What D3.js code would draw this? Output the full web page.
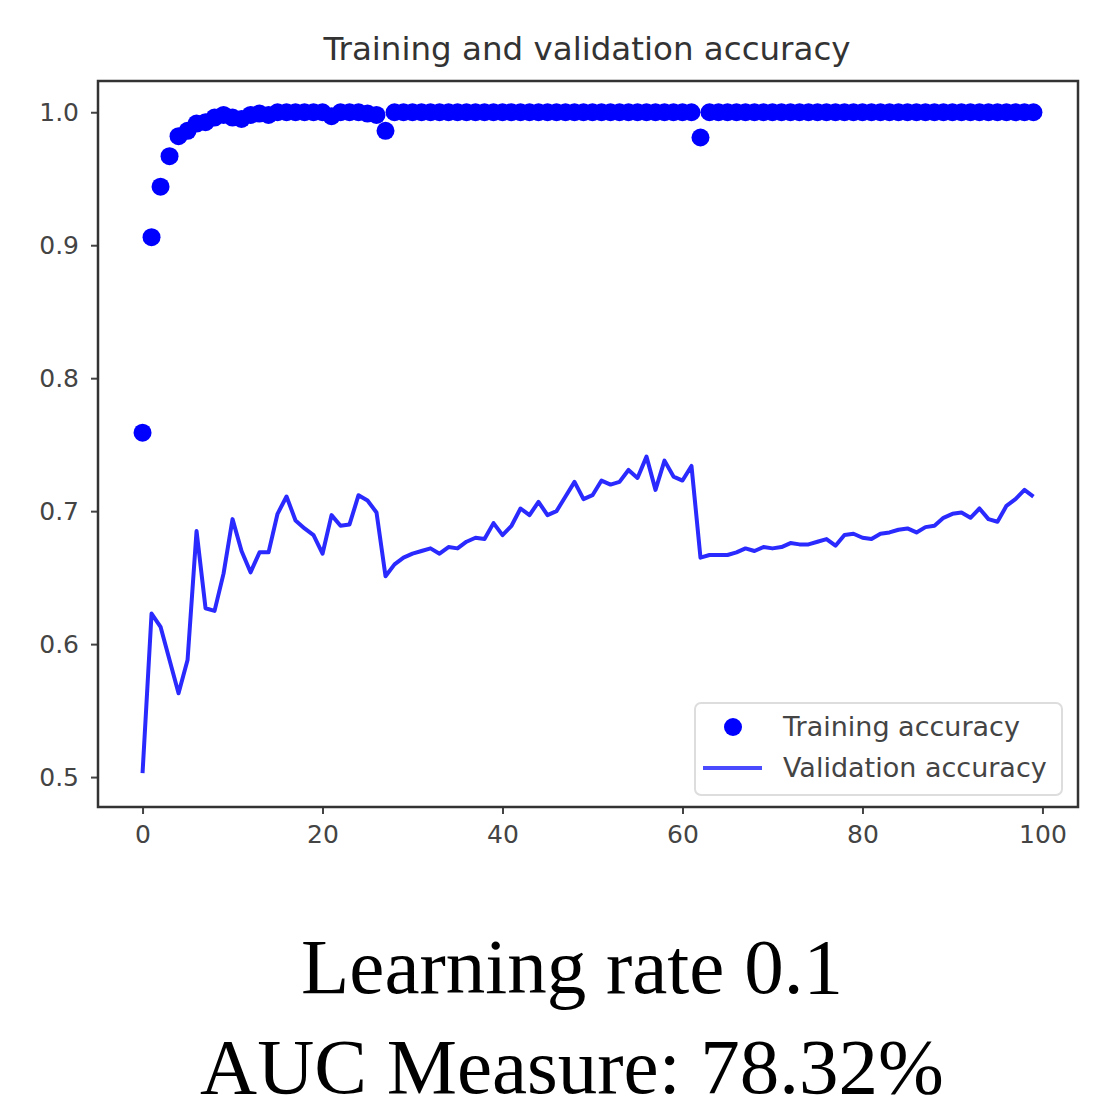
<!DOCTYPE html>
<html>
<head>
<meta charset="utf-8">
<script src="https://cdn.jsdelivr.net/npm/d3@7"></script>
<style>
  body { margin: 0; background: #fff; }
  svg { display: block; }
  .tick text { font-family: "DejaVu Sans", sans-serif; fill: #444; }
</style>
</head>
<body>
<div id="chart"></div>
<script>
// training accuracy per epoch (dots)
const trainAcc = [
  0.759, 0.906, 0.944, 0.967, 0.982, 0.986, 0.9915, 0.9925, 0.996, 0.998,
  0.996, 0.995, 0.998, 0.999, 0.998, 1.0, 1.0, 1.0, 1.0, 1.0,
  1.0, 0.997, 1.0, 1.0, 1.0, 0.999, 0.998, 0.986, 1.0, 1.0,
  1.0, 1.0, 1.0, 1.0, 1.0, 1.0, 1.0, 1.0, 1.0, 1.0,
  1.0, 1.0, 1.0, 1.0, 1.0, 1.0, 1.0, 1.0, 1.0, 1.0,
  1.0, 1.0, 1.0, 1.0, 1.0, 1.0, 1.0, 1.0, 1.0, 1.0,
  1.0, 1.0, 0.981, 1.0, 1.0, 1.0, 1.0, 1.0, 1.0, 1.0,
  1.0, 1.0, 1.0, 1.0, 1.0, 1.0, 1.0, 1.0, 1.0, 1.0,
  1.0, 1.0, 1.0, 1.0, 1.0, 1.0, 1.0, 1.0, 1.0, 1.0,
  1.0, 1.0, 1.0, 1.0, 1.0, 1.0, 1.0, 1.0, 1.0, 1.0
];

// validation accuracy per epoch (line)
const valAcc = [
  0.503, 0.623, 0.613, 0.588, 0.563, 0.588, 0.685, 0.627, 0.625, 0.653,
  0.694, 0.670, 0.654, 0.669, 0.669, 0.698, 0.711, 0.693, 0.687, 0.682,
  0.668, 0.697, 0.689, 0.690, 0.712, 0.708, 0.699, 0.651, 0.660, 0.665,
  0.668, 0.670, 0.672, 0.668, 0.673, 0.672, 0.677, 0.680, 0.679, 0.691,
  0.682, 0.689, 0.702, 0.697, 0.707, 0.697, 0.700, 0.711, 0.722, 0.709,
  0.712, 0.723, 0.720, 0.722, 0.731, 0.725, 0.741, 0.716, 0.738, 0.726,
  0.723, 0.734, 0.665, 0.667, 0.667, 0.667, 0.669, 0.672, 0.670, 0.673,
  0.672, 0.673, 0.676, 0.675, 0.675, 0.677, 0.679, 0.674, 0.682, 0.683,
  0.680, 0.679, 0.683, 0.684, 0.686, 0.687, 0.684, 0.688, 0.689, 0.695,
  0.698, 0.699, 0.695, 0.702, 0.694, 0.692, 0.704, 0.709, 0.716, 0.711
];

const xTicks = [0, 20, 40, 60, 80, 100];
const yTicks = [0.5, 0.6, 0.7, 0.8, 0.9, 1.0];

const title = "Training and validation accuracy";
const legendLabels = ["Training accuracy", "Validation accuracy"];
const captionLines = ["Learning rate 0.1", "AUC Measure: 78.32%"];

const width = 1104, height = 1116;
const plot = { left: 98, right: 1078, top: 81, bottom: 807 };

const svg = d3.select("#chart").append("svg")
    .attr("width", width)
    .attr("height", height);

svg.append("rect").attr("width", width).attr("height", height).attr("fill", "#fff");

// matplotlib style 5% margins
const n = trainAcc.length;
const x = d3.scaleLinear()
    .domain([-0.05 * (n - 1), (n - 1) * 1.05])
    .range([plot.left, plot.right]);
const y = d3.scaleLinear()
    .domain([0.4775, 1.0235])
    .range([plot.bottom, plot.top]);

// validation line
const line = d3.line()
    .x((d, i) => x(i))
    .y(d => y(d));

svg.append("path")
    .datum(valAcc)
    .attr("fill", "none")
    .attr("stroke", "#2a2aff")
    .attr("stroke-width", 4)
    .attr("stroke-linejoin", "round")
    .attr("d", line);

// training dots
svg.append("g")
    .attr("fill", "#0000ff")
    .selectAll("circle")
    .data(trainAcc)
    .join("circle")
    .attr("cx", (d, i) => x(i))
    .attr("cy", d => y(d))
    .attr("r", 9);

// axes
const xAxis = svg.append("g")
    .attr("transform", `translate(0,${plot.bottom})`)
    .call(d3.axisBottom(x).tickValues(xTicks).tickSize(7).tickPadding(8).tickFormat(d3.format("d")));
const yAxis = svg.append("g")
    .attr("transform", `translate(${plot.left},0)`)
    .call(d3.axisLeft(y).tickValues(yTicks).tickSize(7).tickPadding(12).tickFormat(d3.format(".1f")));

[xAxis, yAxis].forEach(g => {
    g.select(".domain").remove();
    g.selectAll(".tick line").attr("stroke", "#444").attr("stroke-width", 2);
    g.selectAll(".tick text").attr("font-size", 25);
});
xAxis.selectAll(".tick text").attr("dy", "0.85em");

// frame
svg.append("rect")
    .attr("x", plot.left)
    .attr("y", plot.top)
    .attr("width", plot.right - plot.left)
    .attr("height", plot.bottom - plot.top)
    .attr("fill", "none")
    .attr("stroke", "#333")
    .attr("stroke-width", 2.5);

// title
svg.append("text")
    .attr("x", 587)
    .attr("y", 60)
    .attr("text-anchor", "middle")
    .attr("font-family", "DejaVu Sans, sans-serif")
    .attr("font-size", 32.5)
    .attr("fill", "#333")
    .text(title);

// legend
const legend = svg.append("g").attr("transform", "translate(695,703)");
legend.append("rect")
    .attr("width", 367)
    .attr("height", 92)
    .attr("rx", 6)
    .attr("fill", "#fff")
    .attr("stroke", "#ddd")
    .attr("stroke-width", 2);
legend.append("circle")
    .attr("cx", 38).attr("cy", 24).attr("r", 9).attr("fill", "#0000ff");
legend.append("line")
    .attr("x1", 8).attr("x2", 67).attr("y1", 65).attr("y2", 65)
    .attr("stroke", "#4a4aff").attr("stroke-width", 4);
legend.selectAll("text.lbl")
    .data(legendLabels)
    .join("text")
    .attr("class", "lbl")
    .attr("x", 88)
    .attr("y", (d, i) => 33 + i * 41)
    .attr("font-family", "DejaVu Sans, sans-serif")
    .attr("font-size", 27)
    .attr("fill", "#444")
    .text(d => d);

// caption
svg.selectAll("text.caption")
    .data(captionLines)
    .join("text")
    .attr("class", "caption")
    .attr("x", 572)
    .attr("y", (d, i) => 993 + i * 100)
    .attr("text-anchor", "middle")
    .attr("font-family", "Liberation Serif, serif")
    .attr("font-size", 79)
    .attr("fill", "#000")
    .text(d => d);
</script>
</body>
</html>
